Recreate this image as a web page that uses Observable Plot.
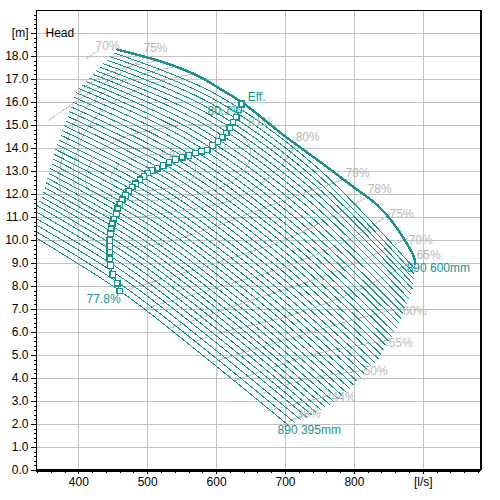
<!DOCTYPE html>
<html><head><meta charset="utf-8">
<script src="https://cdn.jsdelivr.net/npm/d3@7"></script>
<script src="https://cdn.jsdelivr.net/npm/@observablehq/plot@0.6"></script>
<style>body{margin:0;background:#fff}</style>
</head><body><div id="chart"></div>
<script>
// ---- data ----
// thick curve, impeller 600 mm
const topDiameter = 600;
const topQ = [456,494,528,576.7,605.7,637.2,697.6,751,799,833,857,886.7,888];
const topH = [18.3,18.0,17.7,17.1,16.58,16.0,14.57,13.4,12.32,11.55,10.73,9.27,9.0];

// thin curves, impellers 595 ... 395 mm (start, 1/3, 2/3, end points)
const diameters = [595,590,585,580,575,570,565,560,555,550,545,540,535,530,525,520,515,510,505,500,495,490,485,480,475,470,465,460,455,450,445,440,435,430,425,420,415,410,405,400,395];
const startQ = [451.1,446.0,441.0,435.9,430.9,425.8,420.8,415.8,410.7,405.7,400.6,396.8,394.3,391.8,389.3,386.8,384.3,381.8,379.3,376.8,374.3,371.8,369.3,366.8,364.8,362.8,360.9,359.0,357.1,355.2,353.2,351.3,349.4,346.1,342.5,338.9,338.6,338.6,338.6,338.6,338.6];
const startH = [18.15,17.99,17.84,17.68,17.53,17.37,17.22,17.06,16.91,16.75,16.60,16.42,16.21,16.01,15.80,15.60,15.39,15.19,14.98,14.77,14.57,14.36,14.16,13.95,13.74,13.54,13.33,13.12,12.91,12.70,12.50,12.29,12.08,11.89,11.71,11.52,11.24,10.95,10.67,10.38,10.10];
const q1 = [596.5,592.8,589.2,585.5,581.9,577.8,573.5,569.2,564.9,560.6,556.2,552.7,549.8,546.9,544.0,541.1,538.2,535.3,532.4,529.4,526.0,522.6,519.2,515.8,512.7,509.7,506.6,503.6,500.5,497.4,494.3,491.0,487.6,483.2,478.6,474.0,471.9,469.7,466.9,463.9,461.0];
const h1 = [16.40,16.20,16.00,15.80,15.60,15.39,15.20,15.00,14.80,14.60,14.41,14.19,13.96,13.74,13.51,13.29,13.06,12.83,12.61,12.38,12.17,11.95,11.74,11.52,11.30,11.09,10.87,10.66,10.44,10.23,10.02,9.81,9.61,9.42,9.24,9.05,8.80,8.54,8.29,8.03,7.78];
const q2 = [741.8,739.6,737.4,735.2,732.9,729.7,726.2,722.6,719.0,715.4,711.9,708.6,705.3,702.0,698.7,695.4,692.1,688.8,685.5,682.0,677.6,673.3,669.1,664.8,660.7,656.6,652.4,648.1,643.9,639.7,635.4,630.8,625.8,620.3,614.7,609.2,604.8,600.5,594.7,588.9,583.0];
const h2 = [13.28,13.05,12.82,12.60,12.37,12.14,11.93,11.71,11.49,11.26,11.04,10.81,10.59,10.36,10.14,9.91,9.68,9.46,9.23,9.01,8.81,8.60,8.40,8.20,7.99,7.78,7.59,7.38,7.18,6.98,6.79,6.59,6.42,6.26,6.10,5.93,5.73,5.53,5.33,5.13,4.93];
const endQ = [887.2,886.4,885.6,884.8,883.9,881.7,878.9,876.0,873.2,870.3,867.5,864.5,860.8,857.1,853.4,849.7,846.0,842.3,838.6,834.5,829.3,824.1,819.0,813.8,808.6,803.5,798.1,792.7,787.3,781.9,776.5,770.5,764.0,757.4,750.8,744.3,737.7,731.2,722.6,713.8,705.0];
const endH = [8.78,8.56,8.34,8.12,7.90,7.68,7.47,7.26,7.05,6.83,6.62,6.41,6.22,6.02,5.83,5.63,5.44,5.24,5.05,4.86,4.70,4.54,4.38,4.22,4.06,3.89,3.74,3.58,3.42,3.27,3.12,2.98,2.87,2.76,2.65,2.53,2.42,2.31,2.19,2.07,1.95];

// best-efficiency points (one square per curve)
const bepQ = [636.2,632.3,628.5,623.6,619.2,614.0,608.2,601.8,594.1,586.4,578.1,569.4,559.7,550.1,540.4,530.7,522.5,513.8,506.6,500.2,494.4,488.6,482.3,477.5,472.6,467.8,463.0,459.5,456.6,454.7,450.8,448.5,447.0,446.0,445.0,445.0,445.0,445.0,446.0,449.4,455.7,459.5];
const bepH = [15.94,15.68,15.36,15.14,14.90,14.68,14.49,14.30,14.13,13.94,13.88,13.80,13.70,13.62,13.52,13.40,13.26,13.14,13.04,12.94,12.78,12.64,12.47,12.32,12.14,11.96,11.77,11.57,11.38,11.16,10.94,10.73,10.51,10.29,10.00,9.74,9.49,9.20,8.91,8.52,8.14,7.80];

// iso-efficiency lines (grey)
const effContours = [
 {label:"82%", closed:true, q:[446.0,460.5,496.8,540.4,569.4,562.2,525.9,482.3,453.3], h:[12.70,13.35,13.70,13.70,13.26,12.61,12.26,12.17,12.35]},
 {label:"81%", closed:true, q:[409.7,424.2,460.5,518.6,583.9,627.5,649.3,642.0,613.0,562.2,504.1,446.0,417.0], h:[12.61,13.70,14.43,14.87,15.04,14.78,14.00,13.13,12.39,11.96,11.74,11.83,12.17]},
 {label:"80%", q:[569.4,510.0,455.0,415.0,395.0,393.0,410.0,460.5,518.6,620.3,671.0,700.1,716.1], h:[17.26,16.85,16.10,15.00,13.60,12.40,11.50,11.00,11.17,11.74,12.61,13.48,14.22]},
 {label:"79%", q:[540.4,480.0,430.0,400.0,385.0,375.0,372.0,380.0,400.0,430.0,504.1,601.4,697.2,784.3], h:[17.57,17.10,16.30,15.40,14.50,13.50,12.50,11.50,10.50,9.90,9.78,10.65,11.74,12.65]},
 {label:"78%", q:[518.6,460.0,420.0,395.0], h:[17.83,17.45,16.90,16.30]},
 {label:"78%", q:[475.1,504.1,601.4,707.4,775.6,819.2], h:[7.91,8.17,9.04,10.13,11.17,11.91]},
 {label:"75%", q:[356.0,402.5,450.4,493.9], h:[15.22,16.17,17.09,17.91]},
 {label:"75%", q:[501.2,601.4,697.2,794.5,852.5], h:[7.09,7.96,8.83,10.09,11.17]},
 {label:"70%", q:[411.2,428.6], h:[17.91,18.26]},
 {label:"70%", q:[530.2,566.5,649.3,746.6,819.2,877.2], h:[6.17,6.52,7.39,8.35,9.26,10.09]},
 {label:"65%", q:[566.5,601.4,697.2,794.5,881.6], h:[5.56,5.96,6.65,7.69,9.05]},
 {label:"60%", q:[591.2,697.2,794.5,871.4], h:[4.69,5.65,6.52,7.09]},
 {label:"55%", q:[627.5,746.6,848.2], h:[3.91,5.09,5.65]},
 {label:"50%", q:[660.9,721.9,813.4], h:[3.30,3.91,4.35]},
 {label:"44%", q:[675.4,765.4], h:[2.61,3.26]},
 {label:"38%", q:[704.5,732.1], h:[2.13,2.48]}
];
const effLabels = [
 {t:"82%",q:530.5,h:13.65},{t:"70%",q:424.4,h:18.43},{t:"75%",q:493.9,h:18.35},{t:"81%",q:646.0,h:15.15},
 {t:"80%",q:714.7,h:14.48},{t:"79%",q:787.2,h:12.91},{t:"78%",q:819.2,h:12.22},{t:"75%",q:851.1,h:11.13},
 {t:"70%",q:878.7,h:10.00},{t:"65%",q:890.3,h:9.35},{t:"60%",q:870.0,h:6.91},{t:"55%",q:849.6,h:5.52},
 {t:"50%",q:813.4,h:4.30},{t:"44%",q:766.9,h:3.17},{t:"38%",q:716.1,h:2.43}
];
const curveLabels = [
 {t:"Eff.",q:645.2,h:16.22},{t:"80.7%",q:586.8,h:15.61},{t:"77.8%",q:411.2,h:7.43},
 {t:"890 600mm",q:875.8,h:8.80},{t:"890 395mm",q:688.5,h:1.74}
];
const xTicks = [400,500,600,700,800,900];
const yTicks = [0,1,2,3,4,5,6,7,8,9,10,11,12,13,14,15,16,17,18,19];
const xDomain = [338.6,983];
const yDomain = [0,20];

// ---- build tables ----
const teal = "#17948e";
const grey = "#c6c6c6";
const thinRows = [];
diameters.forEach((d,i)=>{
  [[startQ[i],startH[i]],[q1[i],h1[i]],[q2[i],h2[i]],[endQ[i],endH[i]]].forEach(([q,h])=>thinRows.push({d,q,h}));
});
const topRows = topQ.map((q,i)=>({q,h:topH[i]}));
const bepRows = bepQ.map((q,i)=>({q,h:bepH[i],i}));
const openRows = [], closedRows = [];
effContours.forEach((c,k)=>c.q.forEach((q,j)=>(c.closed?closedRows:openRows).push({k,q,h:c.h[j]})));

const plot = Plot.plot({
  width: 500, height: 500,
  marginLeft: 36, marginRight: 20, marginTop: 10, marginBottom: 30,
  style: {fontFamily: "'Liberation Sans', Arial, sans-serif", fontSize: "12px", background: "white", color: "black"},
  x: {domain: xDomain},
  y: {domain: yDomain},
  marks: [
    Plot.gridX({ticks: xTicks, stroke: "#c2c2c2", strokeOpacity: 1}),
    Plot.gridY({ticks: yTicks.filter(d=>d>0), stroke: "#c2c2c2", strokeOpacity: 1}),
    Plot.line(openRows, {x:"q", y:"h", z:"k", curve:"catmull-rom", stroke: grey, strokeWidth: 1, clip: true}),
    Plot.line(closedRows, {x:"q", y:"h", z:"k", curve:"catmull-rom-closed", stroke: grey, strokeWidth: 1, clip: true}),
    Plot.line(thinRows, {x:"q", y:"h", z:"d", curve:"catmull-rom", stroke: teal, strokeWidth: 1, clip: true}),
    Plot.text(effLabels, {x:"q", y:"h", text:"t", textAnchor:"start", fill:"#b8b8b8", fontSize: 12}),
    Plot.line(topRows, {x:"q", y:"h", curve:"catmull-rom", stroke: teal, strokeWidth: 2.5}),
    Plot.line(bepRows, {x:"q", y:"h", stroke: teal, strokeWidth: 1.3}),
    Plot.dot(bepRows, {x:"q", y:"h", symbol:"square", r: 3.1, fill:"white", stroke: teal, strokeWidth: d=>d.i===0?2:1.2}),
    Plot.text(curveLabels, {x:"q", y:"h", text:"t", textAnchor:"start", fill: teal, fontSize: 12}),
    Plot.text(["Head"], {frameAnchor:"top-left", dx: 9, dy: 18, textAnchor:"start", fill:"black", fontSize: 12}),
    Plot.axisY({ticks: d3.range(0, 100).map(k=>k/5), tickSize: 2, tickFormat: ()=>"", label: null}),
    Plot.axisY({ticks: yTicks, tickSize: 5, tickPadding: 3, tickFormat: d=>d===19?"[m]":d.toFixed(1), label: null, fontSize: 12}),
    Plot.axisX({ticks: d3.range(17, 50).map(k=>k*20), tickSize: 3, tickFormat: ()=>"", label: null}),
    Plot.axisX({ticks: xTicks, tickSize: 4, tickPadding: 3, tickFormat: d=>d===900?"[l/s]":String(d), label: null, fontSize: 12}),
    Plot.frame({stroke: "black", strokeWidth: 1}),
    Plot.ruleY([yDomain[0]], {stroke: "black", strokeWidth: 2.5}),
    Plot.ruleX([xDomain[1]], {stroke: "black", strokeWidth: 2})
  ]
});
plot.setAttribute("shape-rendering", "crispEdges");
plot.querySelectorAll("text").forEach(t=>t.setAttribute("shape-rendering","auto"));
document.getElementById("chart").appendChild(plot);
</script>
</body></html>
